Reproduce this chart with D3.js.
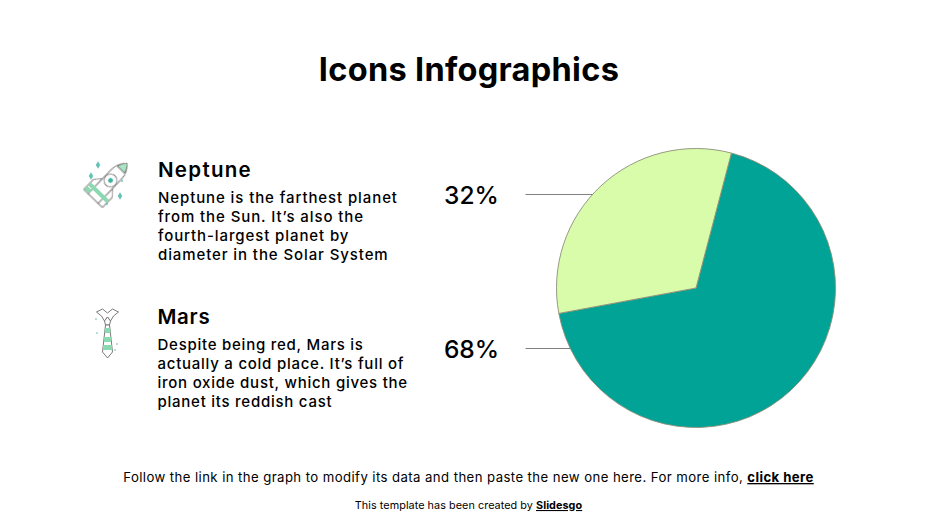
<!DOCTYPE html>
<html>
<head>
<meta charset="utf-8">
<script src="https://cdn.jsdelivr.net/npm/d3@7"></script>
<style>
  html, body { margin: 0; padding: 0; background: #fff; }
  text { font-family: Inter, "Open Sans", sans-serif; fill: #000; }
</style>
</head>
<body>
<svg id="chart" width="937" height="527"></svg>
<script>
// Chart data
var planets = ["Mars", "Neptune"];
var shares = [68, 32];
var sliceColors = ["#00a396", "#d9fcaa"];

var neptuneLines = ["Neptune is the farthest planet", "from the Sun. It’s also the", "fourth-largest planet by", "diameter in the Solar System"];
var marsLines = ["Despite being red, Mars is", "actually a cold place. It’s full of", "iron oxide dust, which gives the", "planet its reddish cast"];

var svg = d3.select("#chart");

// Title
svg.append("text")
  .attr("x", 469).attr("y", 81)
  .attr("text-anchor", "middle")
  .attr("font-size", 32.5).attr("font-weight", 700)
  .attr("letter-spacing", 0.3)
  .text("Icons Infographics");

// Pie, starts a bit past 12 o'clock like the slide
var cx = 696, cy = 288, radius = 139.5;
var startAngle = 14.7 * Math.PI / 180;

var pie = d3.pie().sort(null).startAngle(startAngle).endAngle(startAngle + 2 * Math.PI);
var arc = d3.arc().innerRadius(0).outerRadius(radius);

var pieGroup = svg.append("g").attr("transform", "translate(" + cx + "," + cy + ")");
pieGroup.selectAll("path")
  .data(pie(shares))
  .enter()
  .append("path")
  .attr("d", arc)
  .attr("fill", (d, i) => sliceColors[i])
  .attr("stroke", "#8b8f78")
  .attr("stroke-width", 0.9);

// Leader lines run from the labels to the edge of the pie
var leaderY = [348.5, 194.5];
leaderY.forEach((y) => {
  var dy = y - cy;
  svg.append("line")
    .attr("x1", 525.5)
    .attr("x2", cx - Math.sqrt(radius * radius - dy * dy))
    .attr("y1", y).attr("y2", y)
    .attr("stroke", "#808080").attr("stroke-width", 1);
});

// Percent labels
var labelY = [358, 204];
shares.forEach((s, i) => {
  svg.append("text")
    .attr("x", 471.5).attr("y", labelY[i])
    .attr("text-anchor", "middle")
    .attr("font-size", 24.5).attr("font-weight", 550)
    .text(s + "%");
});

// Text blocks
function textBlock(x, y, name, lines) {
  svg.append("text")
    .attr("x", x).attr("y", y)
    .attr("font-size", 20.5).attr("font-weight", 600)
    .attr("letter-spacing", name == "Mars" ? 0.7 : 1.3)
    .text(name);
  lines.forEach((line, i) => {
    svg.append("text")
      .attr("x", x).attr("y", y + 26 + i * 19)
      .attr("font-size", 15).attr("font-weight", 450)
      .attr("letter-spacing", name == "Mars" ? 0.75 : 0.9)
      .text(line);
  });
}
textBlock(158, 177, planets[1], neptuneLines);
textBlock(157.5, 324, planets[0], marsLines);

// Footer
var footer = svg.append("text")
  .attr("x", 468.5).attr("y", 482)
  .attr("text-anchor", "middle")
  .attr("font-size", 13.2)
  .attr("letter-spacing", 0.41);
footer.append("tspan").text("Follow the link in the graph to modify its data and then paste the new one here. For more info, ");
footer.append("tspan").attr("font-weight", 700).attr("text-decoration", "underline").text("click here");

var credit = svg.append("text")
  .attr("x", 468.5).attr("y", 509)
  .attr("text-anchor", "middle")
  .attr("font-size", 10.8)
  .attr("letter-spacing", 0.06);
credit.append("tspan").text("This template has been created by ");
credit.append("tspan").attr("font-weight", 700).attr("text-decoration", "underline").text("Slidesgo");

// Rocket icon, drawn pointing up then turned 45 degrees
var green = "#8ad9b0", teal = "#3fb3a3", outline = "#7a7a7a";
var rocket = svg.append("g")
  .attr("transform", "translate(110.5,180.5) rotate(44)")
  .style("filter", "blur(0.4px)");
function shape(g, d, fill) {
  g.append("path").attr("d", d).attr("fill", fill)
    .attr("stroke", outline).attr("stroke-width", 1).attr("stroke-linejoin", "round");
}
shape(rocket, "M-7,4 L-13,11 L-13,25 L-6,25 Z", "#fff");
shape(rocket, "M7,4 L13,11 L13,25 L6,25 Z", "#fff");
shape(rocket, "M-7,-8 C-7,-16 -3,-21 0,-24 C3,-21 7,-16 7,-8 L7,25 L-7,25 Z", "#fff");
shape(rocket, "M-5,-15 C-4,-19 -2,-22 0,-24 C2,-22 4,-19 5,-15 Z", "#a9e4c3");
rocket.append("rect").attr("x", -12.5).attr("y", 15).attr("width", 25).attr("height", 4).attr("fill", green);
rocket.append("rect").attr("x", -12.5).attr("y", 20).attr("width", 6).attr("height", 4.5).attr("fill", green);
rocket.append("circle").attr("r", 6.5).attr("fill", "#fff").attr("stroke", outline).attr("stroke-width", 1);
rocket.append("circle").attr("r", 2.4).attr("fill", teal);

// Little sparkles round the rocket
var sparkles = [[98, 165, 2.4], [91, 176, 2.4], [120, 196, 2.4], [122, 181, 1], [107, 204, 1]];
sparkles.forEach((s) => {
  svg.append("path")
    .attr("d", d3.symbol(d3.symbolDiamond, s[2] * s[2] * 3)())
    .attr("transform", "translate(" + s[0] + "," + s[1] + ")")
    .attr("fill", teal).attr("opacity", 0.8);
});

// Tie icon
var tie = svg.append("g").attr("transform", "translate(107.5,331)").style("filter", "blur(0.4px)");
shape(tie, "M-6,-15 L-11,-19 L-5,-22 L0,-18 L5,-22 L11,-19 L6,-15 L3,-10 L0,-14 L-3,-10 Z", "#fff");
shape(tie, "M-3,-10 L0,-14 L3,-10 L2,-6 L-2,-6 Z", "#fff");
shape(tie, "M-2,-6 L2,-6 L5,21 L0,27 L-5,21 Z", "#fff");
[-3, 6, 14].forEach((y, i) => {
  var half = 2.8 + i * 0.8;
  tie.append("rect").attr("x", -half).attr("y", y).attr("width", half * 2).attr("height", 5).attr("fill", green);
});
var tieDots = [[96, 319], [117, 344], [115, 350], [97, 333]];
tieDots.forEach((p) => {
  svg.append("circle").attr("cx", p[0]).attr("cy", p[1]).attr("r", 0.9).attr("fill", teal).attr("opacity", 0.6);
});
</script>
</body>
</html>
